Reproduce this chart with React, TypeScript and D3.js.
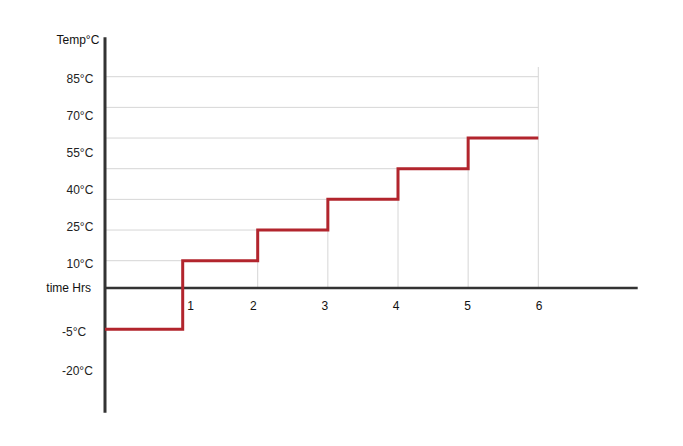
import React from "react";
import * as d3 from "d3";

// Data
const hours = [0, 1, 2, 3, 4, 5, 6];
const temps = [-5, 10, 25, 40, 55, 70, 70];
const gridTemps = [10, 25, 40, 55, 70, 85, 100];
const gridHours = [1, 2, 3, 4, 5, 6];
const posLabels = ["85°C", "70°C", "55°C", "40°C", "25°C", "10°C"];
const negLabels = [
  { v: -5, t: "-5°C" },
  { v: -20, t: "-20°C" },
];
const hourLabels = ["1", "2", "3", "4", "5", "6"];

const W = 683;
const H = 446;

export default function App() {
  const x = d3.scaleLinear().domain([0, 1, 2, 6]).range([105, 182.7, 257.7, 538.3]);
  const y = d3.scaleLinear().domain([-5, 0, 10, 100]).range([329.3, 288, 260.7, 76.7]);
  const yNeg = d3.scaleLinear().domain([-20, -5]).range([370.7, 331.7]);
  const yPos = d3.scalePoint<string>().domain(posLabels).range([78.3, 264]);
  const xLab = d3.scaleLinear().domain([1, 2, 6]).range([190.7, 253.3, 539]);

  const pts: [number, number][] = hours.map((h, i) => [h, temps[i]]);
  const line = d3
    .line<[number, number]>()
    .x((d) => x(d[0]))
    .y((d) => y(d[1]))
    .curve(d3.curveStepAfter);

  const lastHour = hours[hours.length - 1];
  // horizontal gridline ends where the step line leaves that level
  const hEnd = (t: number) => {
    let idx = -1;
    for (let i = 0; i < temps.length - 1; i++) if (temps[i] === t) idx = i;
    return idx >= 0 ? x(hours[idx + 1]) : x(lastHour);
  };
  // vertical gridline rises to the level reached before the step
  const vTop = (h: number) => {
    const i = hours.indexOf(h);
    return h === lastHour ? 67 : y(temps[i - 1]);
  };

  const font = "'Liberation Sans', Arial, sans-serif";
  const textColor = "#222";

  return (
    <svg
      width={W}
      height={H}
      style={{ position: "absolute", left: 0, top: 0, background: "#fff" }}
      fontFamily={font}
      fontSize={12}
    >
      {/* horizontal gridlines */}
      {gridTemps.map((t) => (
        <line key={"gh" + t} x1={x(0)} x2={hEnd(t)} y1={y(t)} y2={y(t)} stroke="#d6d6d6" strokeWidth={1} />
      ))}
      {/* vertical gridlines */}
      {gridHours.map((h) => (
        <line key={"gv" + h} x1={x(h)} x2={x(h)} y1={y(0)} y2={vTop(h)} stroke="#d6d6d6" strokeWidth={1} />
      ))}
      {/* axes */}
      <line x1={x(0)} x2={637.7} y1={y(0)} y2={y(0)} stroke="#333" strokeWidth={2.5} />
      <line x1={x(0)} x2={x(0)} y1={37.3} y2={412.7} stroke="#333" strokeWidth={3} />
      {/* step line */}
      <path d={line(pts) || ""} fill="none" stroke="#b2252d" strokeWidth={3} strokeLinejoin="miter" />
      {/* y labels */}
      <text x={99.3} y={40} dy="0.35em" textAnchor="end" fill="#111">Temp°C</text>
      {posLabels.map((l) => (
        <text key={l} x={93.3} y={yPos(l)} dy="0.35em" textAnchor="end" fill={textColor}>{l}</text>
      ))}
      <text x={91} y={y(0)} dy="0.35em" textAnchor="end" fill="#111">time Hrs</text>
      {negLabels.map((l) => (
        <text key={l.t} x={62} y={yNeg(l.v)} dy="0.35em" textAnchor="start" fill={textColor}>{l.t}</text>
      ))}
      {/* x labels */}
      {hourLabels.map((l, i) => (
        <text key={"xl" + l} x={xLab(i + 1)} y={305.5} dy="0.35em" textAnchor="middle" fill="#111">{l}</text>
      ))}
    </svg>
  );
}
